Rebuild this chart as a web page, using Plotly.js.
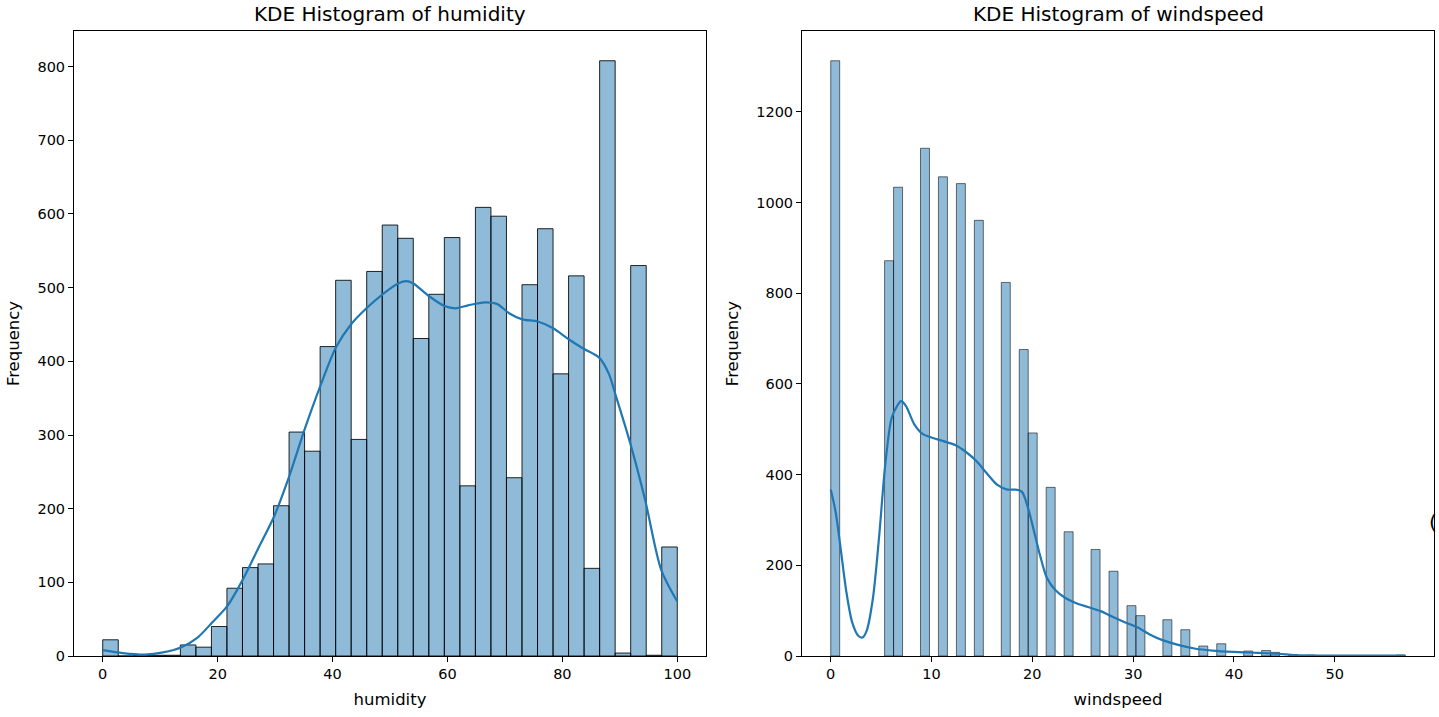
<!DOCTYPE html>
<html>
<head>
<meta charset="utf-8">
<script src="https://cdn.plot.ly/plotly-3.0.1.min.js"></script>
<style>html,body{margin:0;padding:0;background:#fff;}#chart{width:1439px;height:717px;}</style>
</head>
<body>
<div id="chart"></div>
<script>
// ---- humidity histogram (37 bins over 0..100) ----
const humidityBinStart = 0;
const humidityBinEnd = 100;
const humidityCounts = [22, 0, 1, 1, 1, 15, 12, 40, 92, 120, 125, 204, 304, 278, 420, 510, 294, 522, 585, 567, 431, 491, 568, 231, 609, 597, 242, 504, 580, 383, 516, 119, 808, 4, 530, 1, 148];
const humidityKdeX = [0, 3.5, 7.35, 10.5, 13.7, 16.5, 19.0, 21.7, 24.4, 27.0, 29.8, 32.5, 35.2, 37.9, 40.6, 43.3, 45.9, 48.7, 51.5, 52.8, 54.0, 56.7, 59.5, 61.4, 63.6, 66.5, 68.6, 70.8, 73.0, 75.7, 78.4, 81.1, 83.7, 86.4, 88.1, 89.2, 91.7, 94.4, 97.2, 100];
const humidityKdeY = [8, 4, 2, 5, 12, 25, 45, 68, 104, 145, 189, 245, 309, 367, 419, 451, 472, 491, 506, 509, 506, 489, 475, 472, 476, 480, 478, 465, 457, 454, 445, 430, 417, 405, 383, 356, 292, 212, 117, 74];

// ---- windspeed histogram (64 bins over 0..56.9969) ----
const windBinStart = 0;
const windBinEnd = 56.9969;
const windBinCount = 64;
const windValues = [0, 6.0032, 7.0015, 8.9981, 11.0014, 12.998, 15.0013, 16.9979, 19.0012, 19.9995, 22.0028, 23.9994, 26.0027, 27.9993, 30.0026, 31.0009, 32.9975, 35.0008, 36.9974, 39.0007, 40.9973, 43.0006, 43.9989, 46.0022, 47.9988, 50.0021, 51.9987, 56.9969];
const windCounts = [1313, 872, 1034, 1120, 1057, 1042, 961, 824, 676, 492, 372, 274, 235, 187, 111, 89, 80, 58, 22, 27, 11, 12, 8, 3, 2, 1, 1, 2];
const windKdeX = [0, 0.49, 0.99, 1.52, 2.13, 2.75, 3.16, 3.57, 4.19, 4.80, 5.42, 6.03, 6.57, 6.98, 7.47, 8.29, 9.11, 10.14, 11.17, 12.40, 13.42, 14.45, 15.48, 16.50, 17.53, 18.35, 18.97, 19.58, 20.20, 20.81, 21.43, 22.25, 23.28, 24.30, 25.53, 26.77, 28.0, 29.23, 30.46, 31.69, 32.92, 34.56, 36.21, 37.85, 39.90, 42.36, 44.42, 46.06, 49.34, 53.0, 56.9969];
const windKdeY = [367, 317, 236, 146, 74, 44, 41, 56, 128, 263, 425, 524, 551, 562, 551, 511, 490, 481, 474, 465, 450, 430, 403, 378, 367, 367, 362, 326, 272, 218, 173, 146, 128, 117, 108, 99, 86, 74, 63, 47, 35, 24, 16, 12, 9, 7, 5, 2, 1, 1, 1];

// tick labels
const humidityXTicks = [0, 20, 40, 60, 80, 100];
const humidityYTicks = [0, 100, 200, 300, 400, 500, 600, 700, 800];
const windXTicks = [0, 10, 20, 30, 40, 50];
const windYTicks = [0, 200, 400, 600, 800, 1000, 1200];

// derive bars
const humW = (humidityBinEnd - humidityBinStart) / humidityCounts.length;
const humX = humidityCounts.map((c, i) => humidityBinStart + (i + 0.5) * humW);

const windW = (windBinEnd - windBinStart) / windBinCount;
const windX = windValues.map(v => {
  let k = Math.floor((v - windBinStart) / windW);
  if (k >= windBinCount) k = windBinCount - 1;
  return windBinStart + (k + 0.5) * windW;
});

const barFill = 'rgba(31,119,180,0.5)';
const lineColor = '#1f77b4';
const FONT = 'DejaVu Sans, sans-serif';
const TICK = 14.5, AXT = 16.5, TTL = 20;

const traces = [
  {type: 'bar', x: humX, y: humidityCounts, width: humW, xaxis: 'x', yaxis: 'y',
   marker: {color: barFill, line: {color: 'rgba(0,0,0,0.85)', width: 1}}, hoverinfo: 'x+y'},
  {type: 'scatter', mode: 'lines', x: humidityKdeX, y: humidityKdeY, xaxis: 'x', yaxis: 'y',
   line: {color: lineColor, width: 2.2, shape: 'spline', smoothing: 0.8}},
  {type: 'bar', x: windX, y: windCounts, width: windW, xaxis: 'x2', yaxis: 'y2',
   marker: {color: barFill, line: {color: 'rgba(0,0,0,0.55)', width: 1}}, hoverinfo: 'x+y'},
  {type: 'scatter', mode: 'lines', x: windKdeX, y: windKdeY, xaxis: 'x2', yaxis: 'y2',
   line: {color: lineColor, width: 2.2, shape: 'spline', smoothing: 0.8}}
];

const L = 74, R = 5, W = 1439;
const plotW = W - L - R;
const d1 = [0, (706 - L) / plotW];
const d2 = [(802 - L) / plotW, 1];

function xa(domain, range, ticks, title, anchor) {
  return {domain: domain, range: range, anchor: anchor, tickvals: ticks, ticktext: ticks.map(String),
    showgrid: false, zeroline: false, showline: true, mirror: true, linecolor: '#000', linewidth: 1,
    ticks: 'outside', ticklen: 5, tickcolor: '#000', tickfont: {family: FONT, size: TICK, color: '#000'},
    title: {text: title, font: {family: FONT, size: AXT, color: '#000'}, standoff: 12}, fixedrange: true};
}
function ya(range, ticks, title, anchor) {
  return {domain: [0, 1], range: range, anchor: anchor, tickvals: ticks, ticktext: ticks.map(String),
    showgrid: false, zeroline: false, showline: true, mirror: true, linecolor: '#000', linewidth: 1,
    ticks: 'outside', ticklen: 5, tickcolor: '#000', tickfont: {family: FONT, size: TICK, color: '#000'},
    title: {text: title, font: {family: FONT, size: AXT, color: '#000'}, standoff: 13}, fixedrange: true};
}

const humYMax = Math.max(...humidityCounts) * 1.05;
const windYMax = Math.max(...windCounts) * 1.05;
const windPad = (windBinEnd - windBinStart) * 0.05;

const layout = {
  width: 1439, height: 717,
  margin: {l: L, r: R, t: 31, b: 61},
  paper_bgcolor: '#fff', plot_bgcolor: '#fff',
  showlegend: false, bargap: 0,
  font: {family: FONT, color: '#000'},
  xaxis: xa(d1, [-5, 105], humidityXTicks, 'humidity', 'y'),
  yaxis: ya([0, humYMax], humidityYTicks, 'Frequency', 'x'),
  xaxis2: xa(d2, [windBinStart - windPad, windBinEnd + windPad], windXTicks, 'windspeed', 'y2'),
  yaxis2: ya([0, windYMax], windYTicks, 'Frequency', 'x2'),
  annotations: [
    {text: 'KDE Histogram of humidity', xref: 'paper', yref: 'paper', x: (d1[0] + d1[1]) / 2, y: 1,
     xanchor: 'center', yanchor: 'bottom', yshift: 3, showarrow: false, font: {family: FONT, size: TTL, color: '#000'}},
    {text: 'KDE Histogram of windspeed', xref: 'paper', yref: 'paper', x: (d2[0] + d2[1]) / 2, y: 1,
     xanchor: 'center', yanchor: 'bottom', yshift: 3, showarrow: false, font: {family: FONT, size: TTL, color: '#000'}},
    {text: '(', xref: 'paper', yref: 'paper', x: 1, y: 0.214, xanchor: 'right', yanchor: 'middle', xshift: 5,
     showarrow: false, font: {family: FONT, size: 20, color: '#000'}}
  ]
};

Plotly.newPlot('chart', traces, layout, {displayModeBar: false, staticPlot: true});
</script>
</body>
</html>
